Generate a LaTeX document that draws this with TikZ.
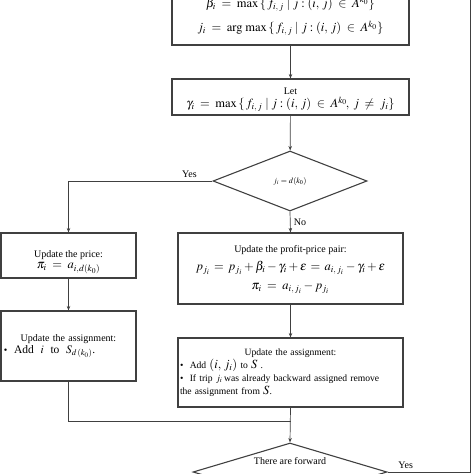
\documentclass[tikz,border=0pt]{standalone}
\usepackage{mathptmx}
\usepackage{fontspec}
\setmainfont{Liberation Serif}
\usetikzlibrary{shapes.geometric,arrows.meta}
\newcommand\wideeq[1]{{\fontsize{12.5}{14}\selectfont$#1$}}
\tikzset{
  box/.style={draw=black!75, line width=1.1pt, fill=white, inner sep=3pt, align=center},
  decision/.style={diamond, draw=black!75, line width=1.1pt, inner sep=0pt, align=center},
  flow/.style={draw=black!75, line width=0.7pt},
  arr/.style={flow, -{Stealth[length=4.5pt,width=3.5pt]}}
}
\begin{document}
\begin{tikzpicture}[x=1pt, y=-1pt, font=\fontsize{10}{12}\selectfont]
\useasboundingbox (0,0) rectangle (474,474);
\clip (0,0) rectangle (474,474);
% boxes of the main column
\node[box, minimum width=237pt, minimum height=58pt] (best) at (290.5,16)
  {\wideeq{\beta_i \;=\; \max\,\{\, f_{i,\,j} \;|\; j:(i,\,j)\;\in\; A^{k_0}\}}\\[9pt]
   \wideeq{j_i \;=\; \arg\,\max\,\{\, f_{i,\,j} \;|\; j:(i,\,j)\;\in\; A^{k_0}\}}};
\node[box, minimum width=237pt, minimum height=36pt, inner sep=1pt] (second) at (290.5,97)
  {\rule{0pt}{12pt}Let\\[1pt] \wideeq{\gamma_i \;=\; \max\,\{\, f_{i,\,j} \;|\; j:(i,\,j)\;\in\; A^{k_0}\!,\; j\;\neq\; j_i\}}};
\node[decision, minimum width=154pt, minimum height=60pt, aspect=2.57] (test) at (290,181)
  {\footnotesize $j_i = d(k_0)$};
% left branch
\node[box, minimum width=135pt, minimum height=45pt] (price) at (68.5,255.5)
  {\rule{0pt}{20pt}Update the price:\\[-1pt] \wideeq{\pi_i \;=\; a_{i,d(k_0)}}};
\node[box, minimum width=135pt, minimum height=70pt, text width=129pt, align=left] (assignL) at (68.5,346)
  {\parindent=0pt{\centering Update the assignment:\par}
   \textbullet\ \ {\fontsize{11.5}{12}\selectfont Add \ $i$ \ to \ $S_{d\,(k_0)}$.}};
% right branch
\node[box, minimum width=225pt, minimum height=71pt] (pair) at (290.5,268.5)
  {\rule{0pt}{9pt}Update the profit-price pair:\\[6pt]
   \wideeq{p_{j_i} \,=\, p_{j_i} + \beta_i - \gamma_i + \varepsilon \,=\, a_{i,\,j_i} - \gamma_i + \varepsilon}\\[7pt]
   \wideeq{\pi_i \;=\; a_{i,\,j_i} - p_{j_i}}};
\node[box, minimum width=225pt, minimum height=69pt, text width=221pt, inner sep=2pt, align=left,
  font=\fontsize{9.6}{13}\selectfont] (assignR) at (290.5,372.5)
  {\parindent=0pt{\centering Update the assignment:\par}
   \textbullet\ \ Add \wideeq{(i,\,j_i)} to \wideeq{S} .\par
   \textbullet\ \ If trip $j_i$\,was already backward assigned remove\par
   the assignment from \wideeq{S}.};
\node[decision, minimum width=194pt, minimum height=58pt, aspect=3.34, text depth=22pt] (more) at (290,472)
  {There are forward};
% connectors
\coordinate (join) at (290.5,421);
\coordinate (back) at (470,-10);
\draw[arr] (best) -- (second);
\draw[arr] (second) -- (test);
\draw[arr] (test.west) -| (price.north) node[pos=0.08, above] {Yes};
\draw[arr] (test.south) -- (pair.north) node[midway, right] {No};
\draw[arr] (price) -- (assignL);
\draw[arr] (pair) -- (assignR);
\draw[flow] (assignL.south) |- (join);
\draw[arr] (assignR.south) -- (more.north);
\draw[flow] (more.east) -| (back) node[pos=0.11, above] {Yes};
\end{tikzpicture}
\end{document}
